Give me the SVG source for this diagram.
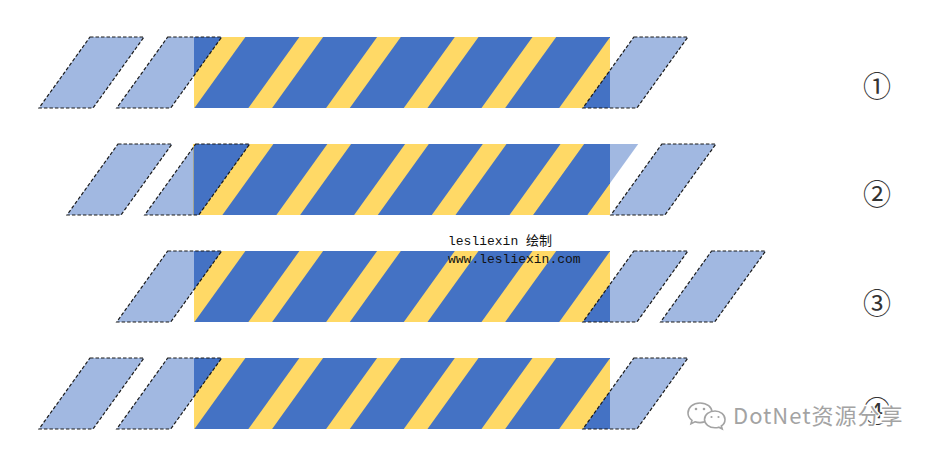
<svg xmlns="http://www.w3.org/2000/svg" width="932" height="458" viewBox="0 0 932 458">
<style>
.bg{fill:#FFD966}
.solid{fill:#4472C4}
.ghost{fill:#4472C4;fill-opacity:.5;stroke:#1a1a1a;stroke-width:1.2;stroke-dasharray:3.5 2}
.light{fill:#4472C4;fill-opacity:.5}
.lbl{font-family:"Liberation Mono","Noto Sans CJK SC",monospace;font-size:13px;fill:#111}
.num{font-family:"Noto Sans CJK SC","DejaVu Sans",sans-serif;font-size:28px;fill:#333;text-anchor:middle;dominant-baseline:central}
.wm{font-family:"Noto Sans CJK SC","Liberation Sans",sans-serif;font-size:22px;letter-spacing:1px;fill:#a3a3a3;stroke:#fff;stroke-width:3;paint-order:stroke;stroke-linejoin:round}
.wmi{fill:#fff;stroke:#a3a3a3;stroke-width:1.6}
</style>
<defs>
<path id="s" d="M51,0 h54 l-51,71 h-54 z"/>
<clipPath id="win" clipPathUnits="userSpaceOnUse"><rect x="194" y="0" width="416" height="71"/></clipPath>
</defs>
<rect width="932" height="458" fill="#fff"/>

<g id="row1" transform="translate(0,37)">
<rect class="bg" x="194" y="0" width="416" height="71"/>
<g class="solid" clip-path="url(#win)">
<use href="#s" x="116.7"/><use href="#s" x="194.4"/><use href="#s" x="272.1"/><use href="#s" x="349.8"/><use href="#s" x="427.5"/><use href="#s" x="505.2"/><use href="#s" x="582.9"/>
</g>
<g class="ghost"><use href="#s" x="39"/><use href="#s" x="116.7"/><use href="#s" x="582.9"/></g>
</g>

<g id="row2" transform="translate(0,144)">
<rect class="bg" x="193" y="0" width="417" height="71"/>
<use class="light" href="#s" x="533.2"/>
<g class="solid" clip-path="url(#win)">
<use href="#s" x="144.7"/><use href="#s" x="222.4"/><use href="#s" x="300.1"/><use href="#s" x="377.8"/><use href="#s" x="455.5"/><use href="#s" x="533.2"/><use href="#s" x="610.9"/>
</g>
<g class="ghost"><use href="#s" x="67"/><use href="#s" x="144.7"/><use href="#s" x="610.9"/></g>
</g>

<g id="row3" transform="translate(0,251)">
<rect class="bg" x="194" y="0" width="416" height="71"/>
<g class="solid" clip-path="url(#win)">
<use href="#s" x="116.7"/><use href="#s" x="194.4"/><use href="#s" x="272.1"/><use href="#s" x="349.8"/><use href="#s" x="427.5"/><use href="#s" x="505.2"/><use href="#s" x="582.9"/>
</g>
<g class="ghost"><use href="#s" x="116.7"/><use href="#s" x="582.9"/><use href="#s" x="660.6"/></g>
</g>

<g id="row4" transform="translate(0,358)">
<rect class="bg" x="194" y="0" width="416" height="71"/>
<g class="solid" clip-path="url(#win)">
<use href="#s" x="116.7"/><use href="#s" x="194.4"/><use href="#s" x="272.1"/><use href="#s" x="349.8"/><use href="#s" x="427.5"/><use href="#s" x="505.2"/><use href="#s" x="582.9"/>
</g>
<g class="ghost"><use href="#s" x="39"/><use href="#s" x="116.7"/><use href="#s" x="582.9"/></g>
</g>

<g id="credit">
<text class="lbl" x="448" y="245">lesliexin 绘制</text>
<text class="lbl" x="448" y="263">www.lesliexin.com</text>
</g>

<g id="numbers">
<text class="num" x="877" y="85">①</text>
<text class="num" x="877" y="193">②</text>
<text class="num" x="877" y="302">③</text>
<text class="num" x="877" y="410">④</text>
</g>

<g id="watermark">
<path class="wmi" d="M700,403 c-7,0 -12,4.5 -12,10 c0,3 1.5,5.5 4,7.3 l-1,3.5 l4,-2 c1.5,0.5 3,0.8 5,0.8 c7,0 12,-4.5 12,-10 c0,-5.5 -5,-9.6 -12,-9.6 z"/>
<path class="wmi" d="M715,411 c-5.8,0 -10.5,3.8 -10.5,8.4 c0,4.6 4.7,8.4 10.5,8.4 c1.4,0 2.6,-0.2 3.8,-0.6 l3.4,1.8 l-0.9,-3 c2.3,-1.5 3.7,-3.9 3.7,-6.6 c0,-4.6 -4.7,-8.4 -10,-8.4 z"/>
<circle cx="696" cy="409" r="1.3" fill="#a3a3a3"/><circle cx="704" cy="409" r="1.3" fill="#a3a3a3"/>
<circle cx="711.5" cy="417" r="1.1" fill="#a3a3a3"/><circle cx="718.5" cy="417" r="1.1" fill="#a3a3a3"/>
<text class="wm" x="733" y="424">DotNet资源分享</text>
</g>
</svg>
